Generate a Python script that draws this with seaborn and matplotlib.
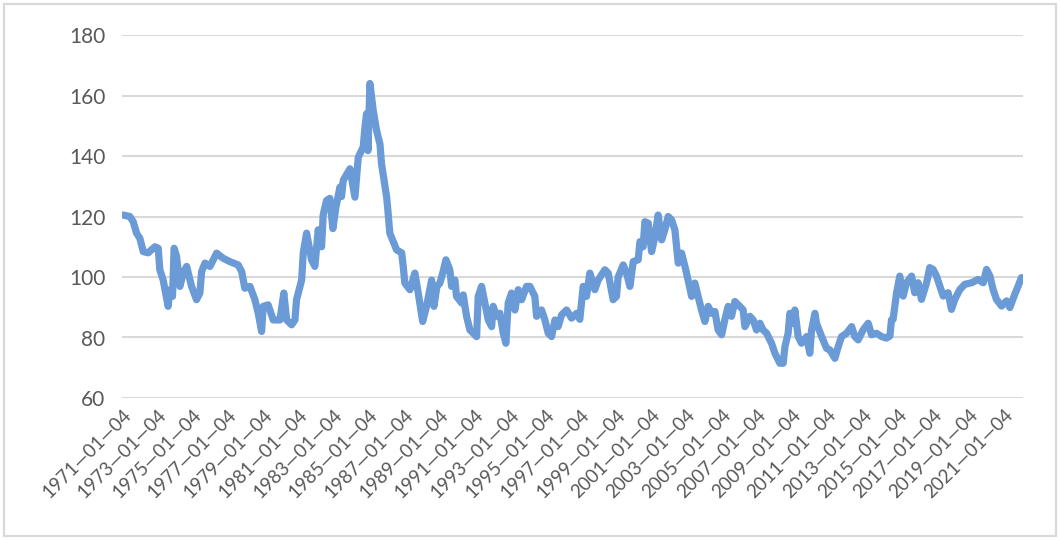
import matplotlib
matplotlib.use("Agg")
import matplotlib.pyplot as plt
import seaborn as sns
import pandas as pd
from matplotlib.patches import Rectangle

# decimal years
years = [
    1971.07, 1971.45, 1971.64, 1971.83, 1972.02, 1972.21, 1972.49, 1972.87, 1973.06, 1973.15,
    1973.34, 1973.62, 1973.72, 1973.87, 1973.96, 1974.10, 1974.29, 1974.48, 1974.67, 1974.95,
    1975.23, 1975.42, 1975.52, 1975.71, 1975.99, 1976.37, 1976.74, 1977.12, 1977.59, 1977.79,
    1977.97, 1978.26, 1978.54, 1978.73, 1978.92, 1979.01, 1979.29, 1979.58, 1979.96, 1980.18,
    1980.34, 1980.62, 1980.81, 1980.90, 1981.19, 1981.28, 1981.47, 1981.75, 1981.94, 1982.13,
    1982.32, 1982.41, 1982.60, 1982.79, 1982.96, 1983.13, 1983.36, 1983.45, 1983.55, 1983.93,
    1984.21, 1984.40, 1984.68, 1984.78, 1984.87, 1984.95, 1985.06, 1985.25, 1985.44, 1985.63,
    1985.72, 1986.01, 1986.08, 1986.19, 1986.57, 1986.86, 1986.95, 1987.04, 1987.33, 1987.61,
    1987.80, 1988.05, 1988.27, 1988.56, 1988.69, 1988.86, 1989.03, 1989.21, 1989.37, 1989.59,
    1989.69, 1989.88, 1989.97, 1990.26, 1990.35, 1990.54, 1990.73, 1991.11, 1991.20, 1991.39,
    1991.58, 1991.77, 1991.96, 1992.05, 1992.24, 1992.43, 1992.62, 1992.77, 1992.90, 1993.09,
    1993.28, 1993.47, 1993.66, 1993.94, 1994.13, 1994.41, 1994.51, 1994.79, 1994.98, 1995.17,
    1995.36, 1995.55, 1995.73, 1995.93, 1996.21, 1996.49, 1996.78, 1996.96, 1997.15, 1997.34,
    1997.53, 1997.81, 1998.00, 1998.38, 1998.57, 1998.85, 1999.04, 1999.13, 1999.42, 1999.61,
    1999.80, 1999.99, 2000.27, 2000.37, 2000.55, 2000.65, 2000.84, 2001.03, 2001.22, 2001.40,
    2001.60, 2001.78, 2001.97, 2002.16, 2002.35, 2002.54, 2002.73, 2002.92, 2003.10, 2003.30,
    2003.48, 2003.67, 2003.86, 2004.05, 2004.24, 2004.43, 2004.62, 2004.80, 2005.00, 2005.18,
    2005.37, 2005.56, 2005.75, 2006.03, 2006.22, 2006.32, 2006.60, 2006.79, 2006.98, 2007.17,
    2007.35, 2007.55, 2007.83, 2008.02, 2008.30, 2008.49, 2008.59, 2008.77, 2008.87, 2009.06,
    2009.15, 2009.34, 2009.53, 2009.82, 2010.00, 2010.10, 2010.29, 2010.38, 2010.67, 2010.95,
    2011.14, 2011.42, 2011.61, 2011.80, 2012.08, 2012.37, 2012.55, 2012.74, 2013.02, 2013.31,
    2013.50, 2013.78, 2014.07, 2014.35, 2014.54, 2014.63, 2014.72, 2014.82, 2014.92, 2015.10,
    2015.29, 2015.48, 2015.77, 2015.95, 2016.14, 2016.33, 2016.62, 2016.80, 2016.99, 2017.18,
    2017.37, 2017.56, 2017.84, 2018.03, 2018.22, 2018.51, 2018.79, 2019.17, 2019.54, 2019.83,
    2020.02, 2020.21, 2020.39, 2020.58, 2020.87, 2021.15, 2021.34, 2021.62, 2021.81, 2022.00,
]

values = [
    120.5, 120.0, 118.3, 114.5, 112.8, 108.4, 108.0, 110.0, 109.5, 102.4,
    99.0, 90.3, 95.8, 93.6, 109.5, 106.8, 96.9, 101.3, 103.5, 96.9,
    92.5, 94.7, 101.8, 104.6, 103.5, 107.9, 106.2, 105.1, 104.0, 101.8,
    96.3, 96.9, 92.5, 88.0, 82.0, 90.3, 90.8, 85.8, 85.8, 94.7,
    85.8, 84.2, 85.8, 92.5, 99.0, 107.9, 114.5, 105.7, 103.5, 115.6,
    110.0, 120.5, 125.3, 126.0, 116.0, 123.0, 129.7, 126.6, 132.0, 135.8,
    126.4, 139.6, 143.0, 149.5, 154.0, 141.8, 164.0, 155.0, 148.4, 144.0,
    137.4, 126.4, 122.0, 114.5, 109.0, 108.0, 103.5, 98.0, 95.8, 101.3,
    94.7, 85.3, 90.3, 99.0, 90.3, 96.9, 98.0, 101.8, 105.7, 102.4,
    96.9, 99.0, 93.6, 91.4, 94.1, 87.0, 82.5, 80.3, 93.6, 96.9,
    91.4, 85.8, 83.6, 90.3, 87.0, 88.0, 81.4, 78.1, 91.4, 94.7,
    89.1, 95.8, 92.5, 96.9, 96.9, 93.6, 87.0, 89.1, 85.8, 81.4,
    80.3, 85.8, 83.6, 87.5, 89.1, 86.4, 88.0, 86.0, 96.9, 93.6,
    101.3, 95.8, 99.0, 102.4, 101.3, 92.5, 93.6, 99.9, 104.0, 101.3,
    96.9, 105.1, 105.7, 111.7, 110.0, 118.3, 117.8, 108.4, 113.4, 120.5,
    112.3, 115.6, 120.0, 118.9, 115.6, 104.6, 107.9, 103.5, 99.0, 93.6,
    98.0, 93.6, 89.1, 85.3, 90.3, 88.0, 88.6, 82.5, 80.9, 85.8,
    90.3, 87.0, 91.9, 90.3, 89.1, 83.6, 87.0, 85.8, 82.5, 84.7,
    82.5, 81.4, 78.1, 74.8, 71.5, 71.5, 77.0, 81.4, 88.0, 84.7,
    89.1, 80.3, 78.1, 80.3, 74.8, 82.5, 88.0, 84.7, 80.3, 76.4,
    75.9, 73.1, 77.0, 80.3, 81.4, 83.6, 80.3, 79.2, 82.5, 84.7,
    80.9, 81.4, 80.3, 79.8, 80.5, 85.8, 86.0, 90.4, 94.8, 100.3,
    93.7, 98.1, 100.3, 94.8, 98.1, 92.6, 98.1, 103.1, 102.5, 100.3,
    97.0, 93.7, 94.8, 89.3, 92.6, 95.9, 97.6, 98.1, 99.2, 98.1,
    102.5, 100.3, 95.9, 92.6, 90.4, 92.1, 89.9, 94.3, 97.0, 99.8,
]

tick_years = list(range(1971, 2022, 2))
tick_labels = [f"{y}—01—04" for y in tick_years]

LINE = "#6B9BD6"
GRID = "#D9D9D9"
TEXT = "#595959"

sns.set_style("white")
plt.rcParams["font.family"] = ["Lato", "DejaVu Sans"]

df = pd.DataFrame({"year": years, "value": values})

fig = plt.figure(figsize=(10.6, 5.4), dpi=100)
ax = fig.add_axes([0.115, 0.263, 0.85, 0.672])

sns.lineplot(data=df, x="year", y="value", ax=ax, color=LINE, linewidth=5.2,
             solid_joinstyle="round", solid_capstyle="round")

ax.set_xlim(1971.0, 2022.08)
ax.set_ylim(60, 180)
ax.set_yticks(range(60, 181, 20))
ax.set_xticks([y + 0.01 for y in tick_years])
ax.set_xticklabels(tick_labels, rotation=45, ha="right", rotation_mode="anchor",
                   fontsize=13.5, color=TEXT)
for lab in ax.get_yticklabels():
    lab.set_fontsize(15)
    lab.set_color(TEXT)

ax.grid(axis="y", color=GRID, linewidth=1.5)
ax.set_axisbelow(True)
ax.tick_params(axis="both", length=0)
ax.tick_params(axis="y", pad=12)
ax.tick_params(axis="x", pad=6)
ax.set_xlabel("")
ax.set_ylabel("")
sns.despine(ax=ax, left=True, bottom=True)

# light frame around the whole chart
fig.patches.append(Rectangle((0.004, 0.007), 0.992, 0.986, transform=fig.transFigure,
                             fill=False, edgecolor=GRID, linewidth=1.6))

fig.savefig("out.png", dpi=100)
